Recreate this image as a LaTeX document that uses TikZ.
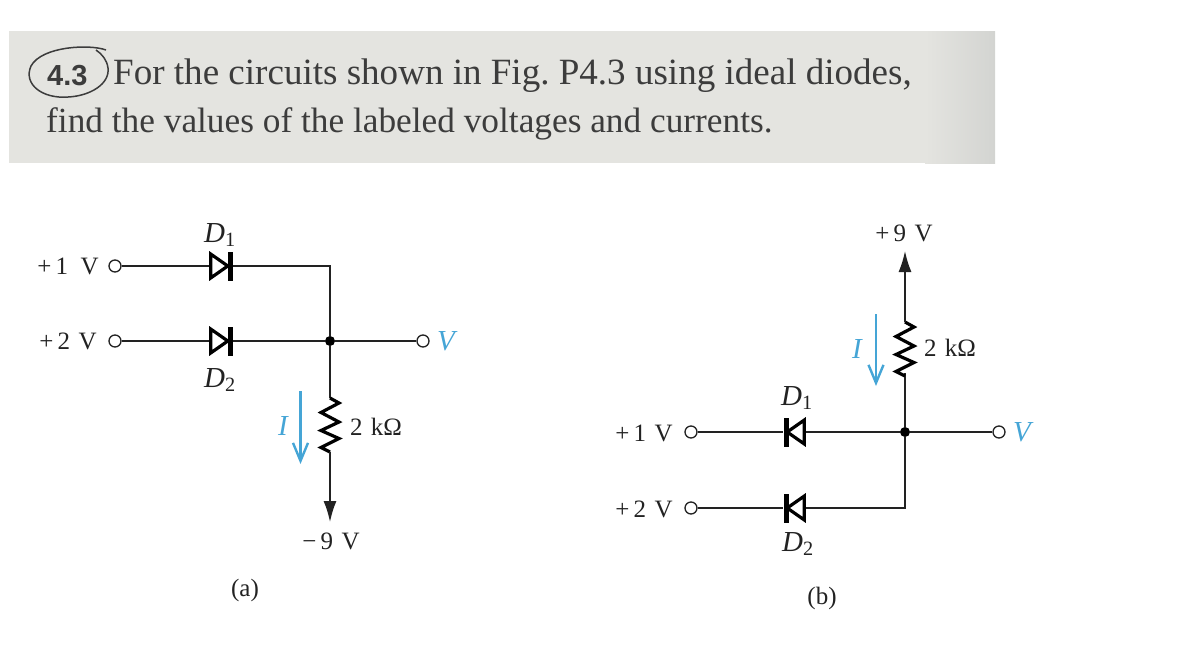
\documentclass[tikz,border=0pt]{standalone}
\usepackage{fontspec}
\setmainfont{Liberation Serif}
\newfontfamily\labelsans{Liberation Sans}
\usepackage{xcolor}
\usetikzlibrary{shapes.geometric, arrows.meta, positioning, calc}

\definecolor{pagegray}{HTML}{E4E4E0}
\definecolor{pageedge}{HTML}{D3D4D1}
\definecolor{currentblue}{HTML}{45A5D6}
\definecolor{inkgray}{HTML}{222222}
\definecolor{printgray}{HTML}{3C3C3C}

\tikzset{
    wire/.style={line width=1.4pt, inkgray},
    zigwire/.style={line width=3.2pt, black, line join=miter},
    terminal/.style={circle, draw=inkgray, line width=1.3pt, fill=white, minimum size=12pt, inner sep=0pt},
    junction/.style={circle, fill=black, minimum size=10pt, inner sep=0pt},
    diodebody/.style={isosceles triangle, isosceles triangle apex angle=70, draw=black, line width=3.2pt,
        fill=white, minimum height=17pt, minimum width=23pt, inner sep=0pt, anchor=center},
    diodebar/.style={rectangle, fill=black, minimum width=5pt, minimum height=29pt, inner sep=0pt},
    lbl/.style={font=\fontsize{25}{25}\selectfont, text=inkgray, inner sep=0pt},
    dlbl/.style={font=\fontsize{29}{29}\selectfont, text=inkgray, inner sep=0pt},
    bluelbl/.style={font=\fontsize{29}{29}\selectfont\itshape, text=currentblue, inner sep=0pt},
    supply/.style={wire, line width=1.6pt, -{Latex[length=21pt,width=13pt]}},
    currentarrow/.style={line width=2.4pt, currentblue, -{Straight Barb[length=18pt,width=15pt]}}
}

\newcommand{\Zig}{-- ++(9,5) -- ++(-18,9.5) -- ++(18,9.5) -- ++(-18,8.5) -- ++(18,8) -- ++(-18,9) -- ++(9,4.5)}

\frenchspacing
\begin{document}
\begin{tikzpicture}[x=1pt, y=-1pt]
    \useasboundingbox (0,0) rectangle (1194,654);

    % Page scan
    \fill[pagegray] (9,31) rectangle (925,163);
    \shade[left color=pagegray, right color=pageedge] (925,31) rectangle (995,163);
    \node[anchor=west, inner sep=0pt, text=printgray, font=\labelsans\bfseries\fontsize{29}{29}\selectfont] (num) at (47,76) {4.3};
    \node[anchor=west, inner sep=0pt, text=printgray, font=\fontsize{37.05}{37.05}\selectfont] (line1) at (113,76) {For the circuits shown in Fig. P4.3 using ideal diodes,};
    \node[anchor=west, inner sep=0pt, text=printgray, font=\fontsize{35.3}{35.3}\selectfont] (line2) at (46,124) {find the values of the labeled voltages and currents.};
    \draw[line width=1.5pt, printgray] (106,50) .. controls (90,44) and (42,46) .. (31,66) .. controls (23,84) and (42,99) .. (68,97) .. controls (90,96) and (110,84) .. (108,68) .. controls (107,60) and (102,54) .. (96,50);

    % Circuit (a)
    \node[terminal] (t1a) at (115,266) {};
    \node[terminal] (t2a) at (115,341) {};
    \node[terminal] (va) at (423,341) {};
    \node[junction] (ja) at (330,341) {};
    \node[diodebody] (d1a) at (217,266) {};
    \node[diodebar] (b1a) at (230,266) {};
    \node[diodebody] (d2a) at (217,341) {};
    \node[diodebar] (b2a) at (230,341) {};
    \coordinate (c1a) at (330,266);
    \coordinate (ra1) at (330,398);
    \coordinate (ra2) at (330,452);
    \coordinate (enda) at (330,522);

    \draw[wire] (t1a) -- (d1a);
    \draw[wire] (t2a) -- (d2a);
    \draw[wire] (b1a) -- (c1a) -- (ja);
    \draw[wire] (b2a) -- (ja) -- (va);
    \draw[wire] (ja) -- (ra1);
    \draw[zigwire] (ra1) \Zig;
    \draw[supply] (ra2) -- (enda);

    \coordinate (ia1) at (300.5,391);
    \coordinate (ia2) at (300.5,464);
    \draw[currentarrow] (ia1) -- (ia2);

    \node[lbl] (l1a) at (68,266) {+\,1\,\,\,V};
    \node[lbl] (l2a) at (68,341) {+\,2\,\,V};
    \node[dlbl] (da1) at (220,235) {\textit{D}\textsubscript{1}};
    \node[dlbl] (da2) at (220,380) {\textit{D}\textsubscript{2}};
    \node[bluelbl] (lva) at (446,341) {V};
    \node[bluelbl] (lia) at (283,426) {I};
    \node[lbl] (rla) at (376,427) {2\,\,kΩ};
    \node[lbl] (lsa) at (331,541) {−\,9\,\,V};
    \node[lbl] (capa) at (245,590) {(a)};

    % Circuit (b)
    \node[terminal] (t1b) at (691,432) {};
    \node[terminal] (t2b) at (691,508) {};
    \node[terminal] (vb) at (999,432) {};
    \node[junction] (jb) at (905,432) {};
    \node[diodebody, shape border rotate=180] (d1b) at (798,432) {};
    \node[diodebar] (b1b) at (786,432) {};
    \node[diodebody, shape border rotate=180] (d2b) at (798,508) {};
    \node[diodebar] (b2b) at (786,508) {};
    \coordinate (c2b) at (905,508);
    \coordinate (rb1) at (905,322);
    \coordinate (rb2) at (905,373);
    \coordinate (endb) at (905,251);

    \draw[wire] (t1b) -- (b1b);
    \draw[wire] (t2b) -- (b2b);
    \draw[wire] (d1b) -- (jb) -- (vb);
    \draw[wire] (d2b) -- (c2b) -- (jb);
    \draw[wire] (jb) -- (rb2);
    \draw[zigwire] (rb1) \Zig;
    \draw[supply] (rb1) -- (endb);

    \coordinate (ib1) at (876,314);
    \coordinate (ib2) at (876,386);
    \draw[currentarrow] (ib1) -- (ib2);

    \node[lbl] (l1b) at (644,433) {+\,1\,\,V};
    \node[lbl] (l2b) at (644,509) {+\,2\,\,V};
    \node[dlbl] (db1) at (797,398) {\textit{D}\textsubscript{1}};
    \node[dlbl] (db2) at (798,544) {\textit{D}\textsubscript{2}};
    \node[bluelbl] (lvb) at (1022,432) {V};
    \node[bluelbl] (lib) at (857,349) {I};
    \node[lbl] (rlb) at (950,348) {2\,\,kΩ};
    \node[lbl] (lsb) at (904,233) {+\,9\,\,V};
    \node[lbl] (capb) at (822,598) {(b)};
\end{tikzpicture}
\end{document}
